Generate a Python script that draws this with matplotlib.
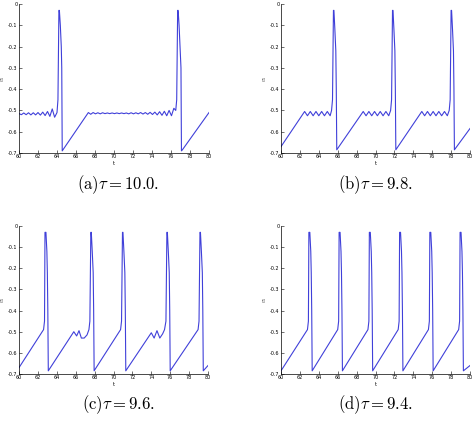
import matplotlib
matplotlib.use("Agg")
import matplotlib.pyplot as plt

plt.rcParams['mathtext.fontset'] = 'cm'
plt.rcParams['axes.unicode_minus'] = False

# Panel (a) tau = 10.0
ta = [60, 60.25, 60.5, 60.75, 61, 61.25, 61.5, 61.75, 62, 62.25, 62.5, 62.75, 63, 63.25, 63.5, 63.75, 64.0, 64.1, 64.2, 64.25, 64.35, 64.45, 64.5, 64.55,
      67.3, 67.55, 67.8, 68.05, 68.3, 68.55, 68.8, 69.05, 69.3, 69.55, 69.8, 70.05, 70.3, 70.55, 70.8, 71.05, 71.3, 71.55, 71.8, 72.05, 72.3, 72.55, 72.8,
      73.05, 73.3, 73.55, 73.8, 74.05, 74.3, 74.55, 74.8, 75.05, 75.3, 75.55, 75.8, 76.05, 76.3, 76.5, 76.6, 76.7, 76.75, 76.85, 76.95, 77.05, 77.1, 77.2, 80]
va = [-0.515, -0.52, -0.512, -0.52, -0.511, -0.521, -0.511, -0.521, -0.51, -0.522, -0.508, -0.524, -0.505, -0.528, -0.493, -0.532, -0.51, -0.45, -0.03, -0.03, -0.1, -0.2, -0.3, -0.69,
      -0.51, -0.518, -0.51, -0.516, -0.511, -0.516, -0.511, -0.515, -0.512, -0.515, -0.512, -0.515, -0.512, -0.515, -0.512, -0.515, -0.512, -0.516, -0.511, -0.516, -0.511, -0.516, -0.51,
      -0.517, -0.51, -0.518, -0.509, -0.519, -0.508, -0.521, -0.506, -0.523, -0.504, -0.525, -0.5, -0.525, -0.49, -0.5, -0.45, -0.03, -0.03, -0.1, -0.2, -0.3, -0.69, -0.685, -0.51]

# Panel (b) tau = 9.8
tb = [60, 62.5, 62.8, 63.1, 63.4, 63.7, 64.0, 64.3, 64.6, 64.9, 65.2, 65.35, 65.45, 65.55, 65.6, 65.7, 65.8, 65.85, 65.9,
      68.7, 69.0, 69.3, 69.6, 69.9, 70.2, 70.5, 70.8, 71.1, 71.4, 71.6, 71.7, 71.8, 71.85, 71.95, 72.05, 72.1, 72.15,
      74.9, 75.2, 75.5, 75.8, 76.1, 76.4, 76.7, 77.0, 77.3, 77.6, 77.8, 77.9, 78.0, 78.05, 78.15, 78.25, 78.3, 78.35, 80]
vb = [-0.67, -0.505, -0.525, -0.505, -0.525, -0.505, -0.525, -0.505, -0.525, -0.505, -0.525, -0.5, -0.45, -0.03, -0.03, -0.12, -0.22, -0.4, -0.685,
      -0.505, -0.525, -0.505, -0.525, -0.505, -0.525, -0.505, -0.525, -0.505, -0.525, -0.5, -0.45, -0.03, -0.03, -0.12, -0.22, -0.4, -0.685,
      -0.505, -0.525, -0.505, -0.525, -0.505, -0.525, -0.505, -0.525, -0.505, -0.525, -0.5, -0.45, -0.03, -0.03, -0.12, -0.22, -0.4, -0.685, -0.585]

# Panel (c) tau = 9.6
tc = [60, 62.6, 62.7, 62.75, 62.85, 62.95, 63.0, 63.05, 63.1,
      65.8, 66.1, 66.35, 66.6, 66.9, 67.2, 67.4, 67.5, 67.6, 67.65, 67.75, 67.85, 67.9, 67.95,
      70.75, 70.85, 70.95, 71.0, 71.1, 71.2, 71.25, 71.3,
      74.0, 74.3, 74.6, 74.9, 75.2, 75.4, 75.55, 75.65, 75.7, 75.8, 75.9, 75.95, 76.0,
      78.95, 79.05, 79.15, 79.2, 79.3, 79.4, 79.45, 79.5, 80]
vc = [-0.67, -0.49, -0.45, -0.03, -0.03, -0.12, -0.22, -0.4, -0.685,
      -0.5, -0.52, -0.495, -0.53, -0.53, -0.515, -0.49, -0.45, -0.03, -0.03, -0.12, -0.22, -0.4, -0.685,
      -0.49, -0.45, -0.03, -0.03, -0.12, -0.22, -0.4, -0.685,
      -0.505, -0.53, -0.495, -0.53, -0.51, -0.49, -0.45, -0.03, -0.03, -0.12, -0.22, -0.4, -0.685,
      -0.49, -0.45, -0.03, -0.03, -0.12, -0.22, -0.4, -0.685, -0.66]

# Panel (d) tau = 9.4
td = [60, 62.8, 62.9, 62.95, 63.05, 63.15, 63.2, 63.25, 63.3,
      66.0, 66.1, 66.15, 66.25, 66.35, 66.4, 66.45, 66.5,
      69.2, 69.3, 69.35, 69.45, 69.55, 69.6, 69.65, 69.7,
      72.4, 72.5, 72.55, 72.65, 72.75, 72.8, 72.85, 72.9,
      75.6, 75.7, 75.75, 75.85, 75.95, 76.0, 76.05, 76.1,
      78.8, 78.9, 78.95, 79.05, 79.15, 79.2, 79.25, 79.3, 80]
vd = [-0.685, -0.49, -0.45, -0.03, -0.03, -0.12, -0.22, -0.4, -0.685,
      -0.49, -0.45, -0.03, -0.03, -0.12, -0.22, -0.4, -0.685,
      -0.49, -0.45, -0.03, -0.03, -0.12, -0.22, -0.4, -0.685,
      -0.49, -0.45, -0.03, -0.03, -0.12, -0.22, -0.4, -0.685,
      -0.49, -0.45, -0.03, -0.03, -0.12, -0.22, -0.4, -0.685,
      -0.49, -0.45, -0.03, -0.03, -0.12, -0.22, -0.4, -0.685, -0.66]

captions = [r"$\mathrm{(a)}\tau = 10.0.$", r"$\mathrm{(b)}\tau = 9.8.$",
            r"$\mathrm{(c)}\tau = 9.6.$", r"$\mathrm{(d)}\tau = 9.4.$"]
xticks = [60, 62, 64, 66, 68, 70, 72, 74, 76, 78, 80]
yticks = [0, -0.1, -0.2, -0.3, -0.4, -0.5, -0.6, -0.7]

W, H = 474, 421
fig = plt.figure(figsize=(W / 100, H / 100), dpi=100)
boxes = [(19, 4, 209, 153), (281, 4, 470, 153), (19, 226, 208, 374), (281, 226, 470, 374)]
capy = [185, 185, 405, 405]
capx = [118, 375, 118, 375]
data = [(ta, va), (tb, vb), (tc, vc), (td, vd)]
for (x0, y0, x1, y1), (t, v), cap, cy, cx in zip(boxes, data, captions, capy, capx):
    ax = fig.add_axes([x0 / W, 1 - y1 / H, (x1 - x0) / W, (y1 - y0) / H])
    ax.plot(t, v, color=(0.25, 0.25, 0.85), lw=0.8)
    ax.set_xlim(60, 80)
    ax.set_ylim(-0.7, 0)
    ax.set_xticks(xticks)
    ax.set_xticklabels([str(x) for x in xticks])
    ax.set_yticks(yticks)
    ax.set_yticklabels(["0" if y == 0 else f"{y:g}" for y in yticks])
    ax.tick_params(labelsize=3.5, length=2, width=0.4, pad=1, direction='in')
    for s in ['top', 'right']:
        ax.spines[s].set_visible(False)
    for s in ['left', 'bottom']:
        ax.spines[s].set_linewidth(0.5)
    ax.set_xlabel("t", fontsize=3.5, labelpad=1)
    ax.set_ylabel(r"$v_1$", fontsize=4, labelpad=1)
    fig.text(cx / W, 1 - cy / H, cap, ha='center', va='center', fontsize=12)

fig.savefig("out.png", dpi=100)
